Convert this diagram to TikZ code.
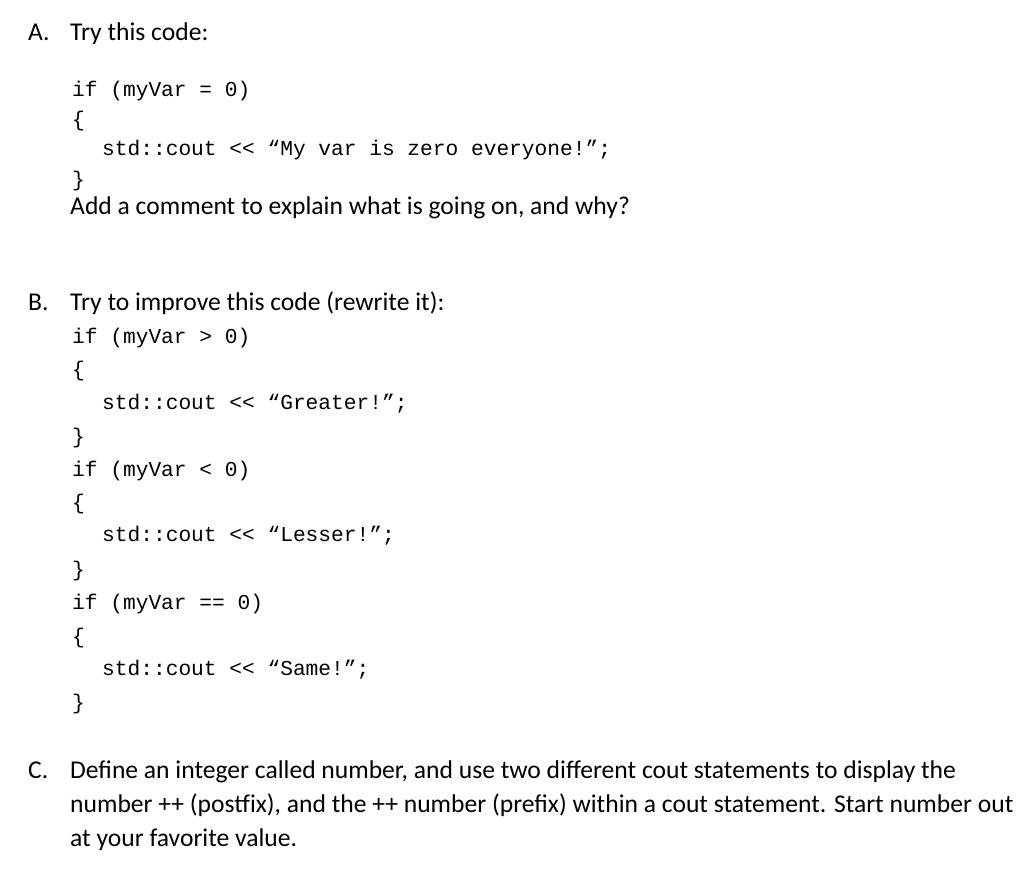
\documentclass[tikz,border=0pt]{standalone}
\usepackage{fontspec}
\setmainfont{Carlito}
\setmonofont{Liberation Mono}
\begin{document}
\begin{tikzpicture}[x=1pt,y=-1pt,
  txt/.style={anchor=base west,inner sep=0pt,font=\fontsize{25.6}{30}\selectfont},
  code/.style={anchor=base west,inner sep=0pt,font=\ttfamily\fontsize{21.2}{25}\selectfont}]
\useasboundingbox[fill=white] (0,0) rectangle (1024,881);
\node[txt] (a) at (28,40) {A.};
\node[txt] (at) at (70,40) {Try this code:};
\node[code] (a1) at (72,96) {if (myVar = 0)};
\node[code] (a2) at (72,126) {\{};
\node[code] (a3) at (102,155) {std::cout << “My var is zero everyone!”;};
\node[code] (a4) at (72,186) {\}};
\node[txt] (a5) at (70,214) {Add a comment to explain what is going on, and why?};
\node[txt] (b) at (28,310) {B.};
\node[txt] (bt) at (70,310) {Try to improve this code (rewrite it):};
\node[code] (b1) at (72,343) {if (myVar > 0)};
\node[code] (b2) at (72,376) {\{};
\node[code] (b3) at (102,409) {std::cout << “Greater!”;};
\node[code] (b4) at (72,443) {\}};
\node[code] (b5) at (72,476) {if (myVar < 0)};
\node[code] (b6) at (72,509) {\{};
\node[code] (b7) at (102,541) {std::cout << “Lesser!”;};
\node[code] (b8) at (72,576) {\}};
\node[code] (b9) at (72,609) {if (myVar == 0)};
\node[code] (b10) at (72,643) {\{};
\node[code] (b11) at (102,675) {std::cout << “Same!”;};
\node[code] (b12) at (72,709) {\}};
\node[txt] (c) at (28,778) {C.};
\node[txt] (c1) at (70,778) {Define an integer called number, and use two different cout statements to display the};
\node[txt] (c2) at (70,812) {number ++ (postfix), and the ++ number (prefix) within a cout statement. Start number out};
\node[txt] (c3) at (70,846) {at your favorite value.};
\end{tikzpicture}
\end{document}
